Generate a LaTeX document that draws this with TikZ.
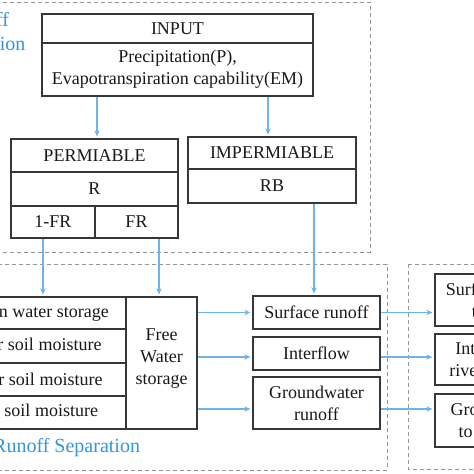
\documentclass[tikz,border=0pt]{standalone}
\usepackage{fontspec}
\setmainfont{Liberation Serif}
\usetikzlibrary{arrows.meta}
\definecolor{boxline}{RGB}{55,55,55}
\definecolor{dashgray}{RGB}{150,150,150}
\definecolor{arrowblue}{RGB}{110,180,235}
\definecolor{labelblue}{RGB}{50,150,225}
\begin{document}
\begin{tikzpicture}[x=1pt,y=-1pt,
  cell/.style={draw=boxline, line width=1.3pt, inner sep=0pt, align=center,
    text=black!90, font=\fontsize{18}{22}\selectfont},
  txt/.style={inner sep=0pt, align=center, text=black!90, font=\fontsize{18}{22}\selectfont},
  dashbox/.style={draw=dashgray, line width=1pt, dash pattern=on 4pt off 3pt},
  bluelabel/.style={inner sep=0pt, align=center, text=labelblue, font=\fontsize{20}{24}\selectfont},
  arr/.style={draw=arrowblue, line width=1.1pt, shorten >=2pt, -{Stealth[length=6pt,width=5.5pt]}}
]
\useasboundingbox (0,0) rectangle (474,474);
\fill[white] (0,0) rectangle (474,474);

% dashed group frames
\draw[dashbox] (-20,2) rectangle (370,252);
\draw[dashbox] (-20,264) rectangle (387,470);
\draw[dashbox] (408,264) rectangle (520,469);

% runoff generation
\node[cell,minimum width=271,minimum height=29] (input) at (177.5,28.5) {INPUT};
\node[cell,minimum width=271,minimum height=53] (inputdesc) at (177.5,69.5) {Precipitation(P),\\Evapotranspiration capability(EM)};
\node[cell,minimum width=167,minimum height=33] (perm) at (94.5,155.5) {PERMIABLE};
\node[cell,minimum width=167,minimum height=34] (r) at (94.5,189) {R};
\node[cell,minimum width=84,minimum height=32] (onefr) at (53,222) {1-FR};
\node[cell,minimum width=83,minimum height=32] (fr) at (136.5,222) {FR};
\node[cell,minimum width=168,minimum height=32] (imperm) at (272,153) {IMPERMIABLE};
\node[cell,minimum width=168,minimum height=34] (rb) at (272,186) {RB};
\node[bluelabel] (gen) at (-19,32) {Runoff\\Generation};

% runoff separation
\node[cell,minimum width=192,minimum height=32] (tension) at (30,313) {Tension water storage};
\node[cell,minimum width=192,minimum height=34] (upper) at (30,346) {Upper soil moisture};
\node[cell,minimum width=192,minimum height=33] (lower) at (30,379.5) {Lower soil moisture};
\node[cell,minimum width=192,minimum height=33] (deep) at (30,412.5) {Deep soil moisture};
\node[cell,minimum width=71,minimum height=132] (free) at (161.5,363) {};
\node[txt] (freetext) at (161.5,359) {Free\\Water\\storage};
\node[cell,minimum width=127,minimum height=33] (surf) at (316.5,312.5) {Surface runoff};
\node[cell,minimum width=127,minimum height=33] (inter) at (316.5,353.5) {Interflow};
\node[cell,minimum width=127,minimum height=52] (ground) at (316.5,403) {Groundwater\\runoff};
\node[bluelabel,anchor=west] (sep) at (-7,448) {Runoff Separation};

% routing
\node[cell,minimum width=126,minimum height=52] (farsurf) at (498,300) {Surface runoff\\to river};
\node[cell,minimum width=126,minimum height=51] (farinter) at (498,359.5) {Interflow to\\river network};
\node[cell,minimum width=126,minimum height=53] (farground) at (498,420.5) {Groundwater\\to the river};

% connector anchors
\coordinate (pin) at ([xshift=2.5pt]perm.north);
\coordinate (iin) at ([xshift=-4pt]imperm.north);
\coordinate (tin) at ([xshift=-10pt]onefr.south);
\coordinate (fin) at ([xshift=22.5pt]fr.south);
\coordinate (sin) at ([xshift=-2.5pt]surf.north);
\coordinate (h1) at (surf.west);
\coordinate (h2) at ([yshift=-3.5pt]inter.west);
\coordinate (h3) at ([yshift=-6pt]ground.west);

\draw[arr] (pin |- inputdesc.south) -- (pin);
\draw[arr] (iin |- inputdesc.south) -- (iin);
\draw[arr] (tin) -- (tin |- tension.north);
\draw[arr] (fin) -- (fin |- free.north);
\draw[arr] (sin |- rb.south) -- (sin);
\draw[arr] (free.east |- h1) -- (h1);
\draw[arr] (free.east |- h2) -- (h2);
\draw[arr] (free.east |- h3) -- (h3);
\draw[arr] (surf.east |- h1) -- (farsurf.west |- h1);
\draw[arr] (inter.east |- h2) -- (farinter.west |- h2);
\draw[arr] (ground.east |- h3) -- (farground.west |- h3);
\end{tikzpicture}
\end{document}
